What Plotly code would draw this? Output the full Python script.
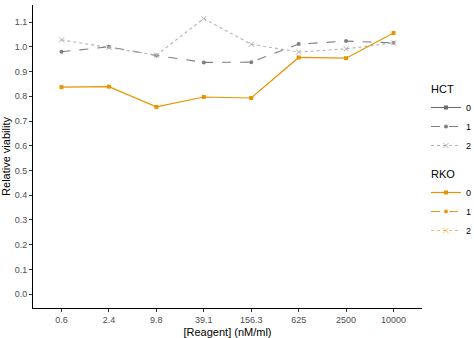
import plotly.graph_objects as go

conc = ["0.6", "2.4", "9.8", "39.1", "156.3", "625", "2500", "10000"]
hct_0 = [None] * 8
hct_1 = [0.980, 1.000, 0.965, 0.937, 0.938, 1.011, 1.023, 1.016]
hct_2 = [1.028, 0.997, 0.966, 1.114, 1.010, 0.979, 0.992, 1.016]
rko_0 = [0.837, 0.839, 0.757, 0.797, 0.793, 0.957, 0.954, 1.056]
rko_1 = [None] * 8
rko_2 = [None] * 8
y_ticks = [0.0, 0.1, 0.2, 0.3, 0.4, 0.5, 0.6, 0.7, 0.8, 0.9, 1.0, 1.1]

fig = go.Figure()

def add(name, y, group, color, dash, symbol, msize, lw):
    fig.add_trace(go.Scatter(
        x=conc, y=y, mode="lines+markers", name=name,
        legendgroup=group, legendgrouptitle=dict(text=group, font=dict(size=11, color="#000000")),
        line=dict(color=color, dash=dash, width=lw),
        marker=dict(symbol=symbol, size=msize, color=color),
        connectgaps=False, showlegend=True,
    ))

add("0", hct_0, "HCT", "#6e6e6e", "solid", "square", 4, 1.1)
add("1", hct_1, "HCT", "#7f7f7f", "dash", "circle", 4, 1.1)
add("2", hct_2, "HCT", "#b3b3b3", "dot", "x-thin-open", 5, 1.1)
add("0", rko_0, "RKO", "#E69500", "solid", "square", 4, 1.2)
add("1", rko_1, "RKO", "#E99A1A", "dash", "circle", 4, 1.2)
add("2", rko_2, "RKO", "#F0BE6A", "dot", "x-thin-open", 5, 1.2)

axis_common = dict(
    showline=True, linecolor="#000000", linewidth=1, mirror=False,
    ticks="outside", ticklen=3, tickcolor="#333333", tickwidth=1,
    showgrid=False, zeroline=False,
    tickfont=dict(size=9, color="#4d4d4d", family="Liberation Sans, Arial, sans-serif"),
)

fig.update_layout(
    width=474, height=338,
    margin=dict(l=33, r=52, t=5, b=30, autoexpand=False),
    paper_bgcolor="white", plot_bgcolor="white",
    font=dict(family="Liberation Sans, Arial, sans-serif", color="#000000"),
    xaxis=dict(
        type="category", range=[-0.6, 7.6],
        title=dict(text="[Reagent] (nM/ml)", font=dict(size=11), standoff=4),
        **axis_common,
    ),
    yaxis=dict(
        range=[-0.056, 1.169], tickvals=y_ticks,
        ticktext=[f"{v:.1f}" for v in y_ticks],
        title=dict(text="Relative viability", font=dict(size=11), standoff=4),
        **axis_common,
    ),
    legend=dict(
        xref="container", yref="container",
        x=426 / 474, xanchor="left", y=1 - 74 / 338, yanchor="top",
        font=dict(size=9), tracegroupgap=9, itemwidth=30,
        bgcolor="rgba(0,0,0,0)",
    ),
)

fig.write_html("out.html")
